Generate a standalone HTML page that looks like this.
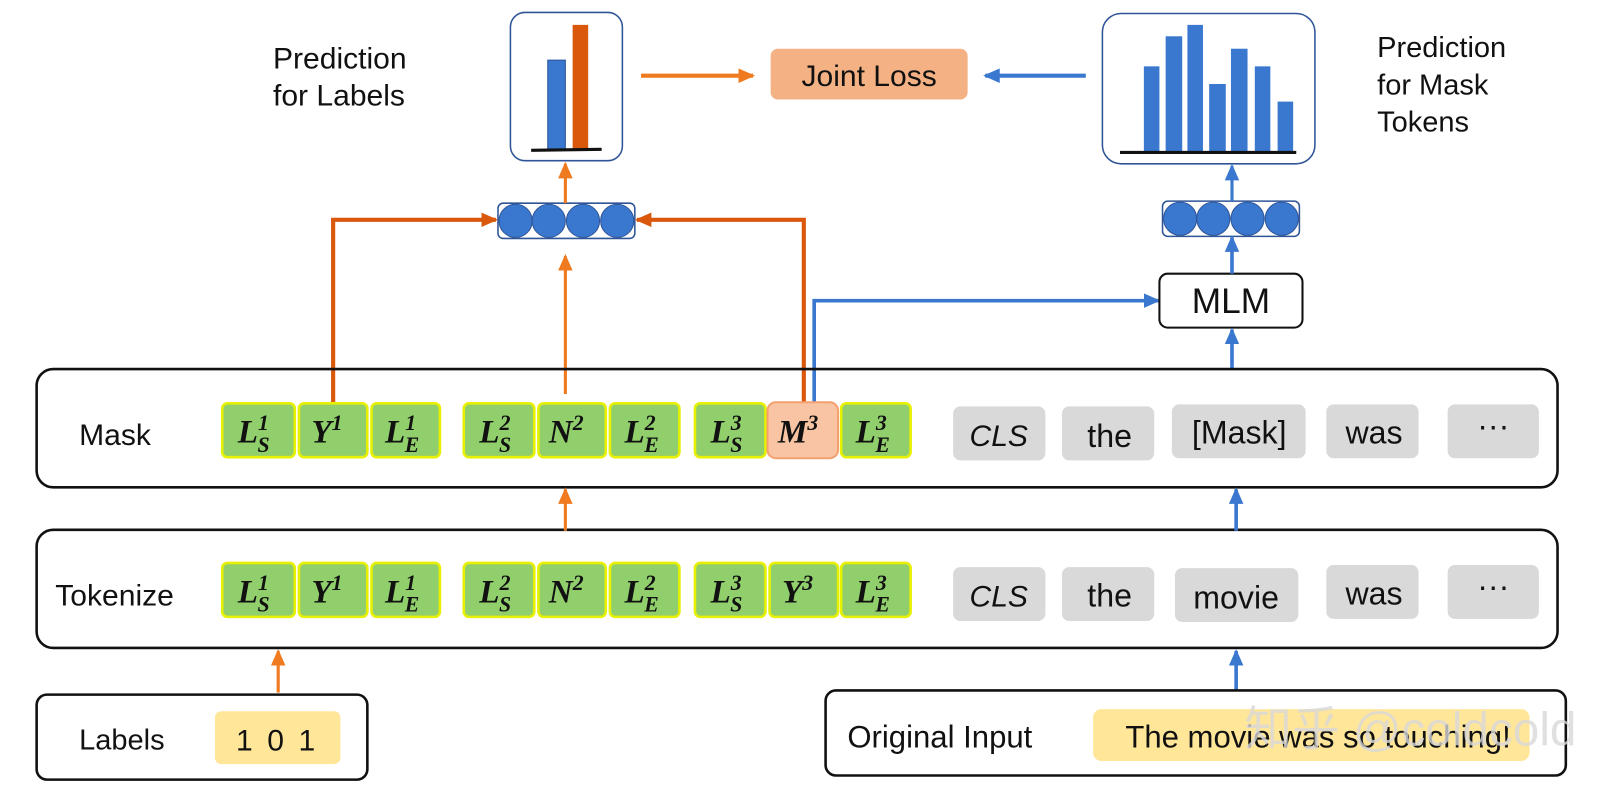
<!DOCTYPE html>
<html><head><meta charset="utf-8"><style>
html,body{margin:0;padding:0;background:#fff;}
svg{display:block;}
text{font-family:"Liberation Sans","Noto Sans CJK SC",sans-serif;fill:#111;}
.m{font-family:"Liberation Serif",serif;font-style:italic;font-weight:bold;font-size:32px;fill:#111;}
</style></head><body>
<svg width="1618" height="790" viewBox="0 0 1560 762" xmlns="http://www.w3.org/2000/svg">
<defs>
<marker id="ao" markerWidth="16" markerHeight="14" refX="14" refY="7" orient="auto" markerUnits="userSpaceOnUse"><path d="M0,0 L16,7 L0,14 Z" fill="#ef7a1f"/></marker>
<marker id="ad" markerWidth="16" markerHeight="14" refX="14" refY="7" orient="auto" markerUnits="userSpaceOnUse"><path d="M0,0 L16,7 L0,14 Z" fill="#d9580c"/></marker>
<marker id="ab" markerWidth="16" markerHeight="14" refX="14" refY="7" orient="auto" markerUnits="userSpaceOnUse"><path d="M0,0 L16,7 L0,14 Z" fill="#3a78d0"/></marker>
</defs>

<text x="263" y="66" font-size="29">Prediction</text>
<text x="263" y="102" font-size="29">for Labels</text>
<rect x="492" y="12" width="108" height="143" rx="14" fill="#fff" stroke="#2f5597" stroke-width="1.5"/>
<rect x="528" y="58" width="17" height="87" fill="#3a78d0" stroke="#2f5597"/>
<rect x="552" y="24" width="15" height="121" fill="#d9580c"/>
<line x1="512" y1="145" x2="580" y2="144" stroke="#111" stroke-width="3"/>
<line x1="618" y1="73" x2="726" y2="73" stroke="#ef7a1f" stroke-width="4" marker-end="url(#ao)"/>
<rect x="743" y="47" width="190" height="49" rx="7" fill="#f4b183"/>
<text x="838" y="83" font-size="29" text-anchor="middle">Joint Loss</text>
<line x1="1047" y1="73" x2="950" y2="73" stroke="#3a78d0" stroke-width="4" marker-end="url(#ab)"/>

<rect x="1063" y="13" width="205" height="145" rx="18" fill="#fff" stroke="#2f5597" stroke-width="1.5"/>
<g fill="#3a78d0">
<rect x="1103" y="64" width="15" height="83"/>
<rect x="1124" y="35" width="16" height="112"/>
<rect x="1145" y="24" width="15" height="123"/>
<rect x="1166" y="81" width="16" height="66"/>
<rect x="1187" y="47" width="16" height="100"/>
<rect x="1210" y="64" width="15" height="83"/>
<rect x="1232" y="98" width="15" height="49"/>
</g>
<line x1="1080" y1="147" x2="1250" y2="147" stroke="#111" stroke-width="3"/>
<text x="1328" y="55" font-size="28">Prediction</text>
<text x="1328" y="91" font-size="28">for Mask</text>
<text x="1328" y="127" font-size="28">Tokens</text>

<rect x="480" y="196" width="132" height="34" rx="5" fill="#fff" stroke="#2f5597" stroke-width="1.5"/>
<g fill="#3a78d0" stroke="#2f5597"><circle cx="497" cy="213" r="16"/><circle cx="529" cy="213" r="16"/><circle cx="562" cy="213" r="16"/><circle cx="595" cy="213" r="16"/></g>
<rect x="1121" y="194" width="132" height="34" rx="5" fill="#fff" stroke="#2f5597" stroke-width="1.5"/>
<g fill="#3a78d0" stroke="#2f5597"><circle cx="1138" cy="211" r="16"/><circle cx="1170" cy="211" r="16"/><circle cx="1203" cy="211" r="16"/><circle cx="1236" cy="211" r="16"/></g>

<line x1="545" y1="196" x2="545" y2="158" stroke="#ef7a1f" stroke-width="3" marker-end="url(#ao)"/>
<line x1="1188" y1="194" x2="1188" y2="160" stroke="#3a78d0" stroke-width="3" marker-end="url(#ab)"/>
<path d="M321,390 V212 H478" fill="none" stroke="#d9580c" stroke-width="4" marker-end="url(#ad)"/>
<path d="M775,390 V212 H614" fill="none" stroke="#d9580c" stroke-width="4" marker-end="url(#ad)"/>
<line x1="545" y1="380" x2="545" y2="247" stroke="#ef7a1f" stroke-width="3" marker-end="url(#ao)"/>
<path d="M785,390 V290 H1117" fill="none" stroke="#3a78d0" stroke-width="3.5" marker-end="url(#ab)"/>
<rect x="1118" y="264" width="138" height="52" rx="8" fill="#fff" stroke="#111" stroke-width="2"/>
<text x="1187" y="302" font-size="34" text-anchor="middle">MLM</text>
<line x1="1188" y1="356" x2="1188" y2="318" stroke="#3a78d0" stroke-width="3.5" marker-end="url(#ab)"/>
<line x1="1188" y1="264" x2="1188" y2="229" stroke="#3a78d0" stroke-width="3.5" marker-end="url(#ab)"/>

<rect x="35" y="356" width="1467" height="114" rx="16" fill="none" stroke="#111" stroke-width="2.5"/>
<text x="76" y="429" font-size="29">Mask</text>
<rect x="35" y="511" width="1467" height="114" rx="16" fill="none" stroke="#111" stroke-width="2.5"/>
<text x="53" y="584" font-size="29">Tokenize</text>

<line x1="545" y1="512" x2="545" y2="472" stroke="#ef7a1f" stroke-width="3" marker-end="url(#ao)"/>
<line x1="1192" y1="512" x2="1192" y2="472" stroke="#3a78d0" stroke-width="3.5" marker-end="url(#ab)"/>

<g stroke="#e6f000" stroke-width="2.5" fill="#90cf6c">
<rect x="214" y="389" width="70" height="52" rx="5"/><rect x="288" y="389" width="66" height="52" rx="5"/><rect x="358" y="389" width="66" height="52" rx="5"/>
<rect x="447" y="389" width="68" height="52" rx="5"/><rect x="519" y="389" width="65" height="52" rx="5"/><rect x="588" y="389" width="67" height="52" rx="5"/>
<rect x="670" y="389" width="68" height="52" rx="5"/><rect x="811" y="389" width="67" height="52" rx="5"/>
<rect x="214" y="543" width="70" height="52" rx="5"/><rect x="288" y="543" width="66" height="52" rx="5"/><rect x="358" y="543" width="66" height="52" rx="5"/>
<rect x="447" y="543" width="68" height="52" rx="5"/><rect x="519" y="543" width="65" height="52" rx="5"/><rect x="588" y="543" width="67" height="52" rx="5"/>
<rect x="670" y="543" width="68" height="52" rx="5"/><rect x="742" y="543" width="66" height="52" rx="5"/><rect x="811" y="543" width="67" height="52" rx="5"/>
</g>
<rect x="740" y="388" width="68" height="54" rx="8" fill="#f8c4a4" stroke="#f4a070" stroke-width="2"/>

<g class="m">
<text x="229" y="427" class="m">L<tspan font-size="21" dy="-12">1</tspan><tspan font-size="21" dx="-11" dy="21">S</tspan></text>
<text x="300" y="427" class="m">Y<tspan font-size="21" dy="-12">1</tspan></text>
<text x="371" y="427" class="m">L<tspan font-size="21" dy="-12">1</tspan><tspan font-size="21" dx="-11" dy="21">E</tspan></text>
<text x="462" y="427" class="m">L<tspan font-size="21" dy="-12">2</tspan><tspan font-size="21" dx="-11" dy="21">S</tspan></text>
<text x="529" y="427" class="m">N<tspan font-size="21" dy="-12">2</tspan></text>
<text x="602" y="427" class="m">L<tspan font-size="21" dy="-12">2</tspan><tspan font-size="21" dx="-11" dy="21">E</tspan></text>
<text x="685" y="427" class="m">L<tspan font-size="21" dy="-12">3</tspan><tspan font-size="21" dx="-11" dy="21">S</tspan></text>
<text x="750" y="427" class="m">M<tspan font-size="21" dy="-12">3</tspan></text>
<text x="825" y="427" class="m">L<tspan font-size="21" dy="-12">3</tspan><tspan font-size="21" dx="-11" dy="21">E</tspan></text>
<text x="229" y="581" class="m">L<tspan font-size="21" dy="-12">1</tspan><tspan font-size="21" dx="-11" dy="21">S</tspan></text>
<text x="300" y="581" class="m">Y<tspan font-size="21" dy="-12">1</tspan></text>
<text x="371" y="581" class="m">L<tspan font-size="21" dy="-12">1</tspan><tspan font-size="21" dx="-11" dy="21">E</tspan></text>
<text x="462" y="581" class="m">L<tspan font-size="21" dy="-12">2</tspan><tspan font-size="21" dx="-11" dy="21">S</tspan></text>
<text x="529" y="581" class="m">N<tspan font-size="21" dy="-12">2</tspan></text>
<text x="602" y="581" class="m">L<tspan font-size="21" dy="-12">2</tspan><tspan font-size="21" dx="-11" dy="21">E</tspan></text>
<text x="685" y="581" class="m">L<tspan font-size="21" dy="-12">3</tspan><tspan font-size="21" dx="-11" dy="21">S</tspan></text>
<text x="754" y="581" class="m">Y<tspan font-size="21" dy="-12">3</tspan></text>
<text x="825" y="581" class="m">L<tspan font-size="21" dy="-12">3</tspan><tspan font-size="21" dx="-11" dy="21">E</tspan></text>
</g>

<g fill="#d9d9d9">
<rect x="919" y="392" width="89" height="52" rx="7"/><rect x="1024" y="392" width="89" height="52" rx="7"/><rect x="1130" y="390" width="129" height="52" rx="7"/><rect x="1279" y="390" width="89" height="52" rx="7"/><rect x="1396" y="390" width="88" height="52" rx="7"/>
<rect x="919" y="547" width="89" height="52" rx="7"/><rect x="1024" y="547" width="89" height="52" rx="7"/><rect x="1133" y="548" width="119" height="52" rx="7"/><rect x="1279" y="545" width="89" height="52" rx="7"/><rect x="1396" y="545" width="88" height="52" rx="7"/>
</g>
<g font-size="31" text-anchor="middle">
<text x="963" y="430" font-style="italic" font-size="29">CLS</text><text x="1070" y="431">the</text><text x="1195" y="428">[Mask]</text><text x="1325" y="428">was</text><text x="1440" y="421">···</text>
<text x="963" y="585" font-style="italic" font-size="29">CLS</text><text x="1070" y="585">the</text><text x="1192" y="587">movie</text><text x="1325" y="583">was</text><text x="1440" y="576">···</text>
</g>

<line x1="268" y1="668" x2="268" y2="628" stroke="#ef7a1f" stroke-width="3" marker-end="url(#ao)"/>
<line x1="1192" y1="666" x2="1192" y2="628" stroke="#3a78d0" stroke-width="3.5" marker-end="url(#ab)"/>

<rect x="35" y="670" width="319" height="82" rx="10" fill="none" stroke="#111" stroke-width="2.5"/>
<text x="76" y="723" font-size="28">Labels</text>
<rect x="207" y="686" width="121" height="51" rx="6" fill="#ffe699"/>
<text x="267" y="724" font-size="29" text-anchor="middle" letter-spacing="3">1 0 1</text>
<rect x="796" y="666" width="714" height="82" rx="10" fill="none" stroke="#111" stroke-width="2.5"/>
<text x="817" y="721" font-size="30">Original Input</text>
<rect x="1054" y="684" width="421" height="50" rx="8" fill="#ffe699"/>
<text x="1271" y="721" font-size="30" text-anchor="middle">The movie was so touching!</text>
<text x="1200" y="719" font-size="46" style="fill:#d8d8d8" fill-opacity="0.8">知乎 @coldcold</text>
</svg>
</body></html>
